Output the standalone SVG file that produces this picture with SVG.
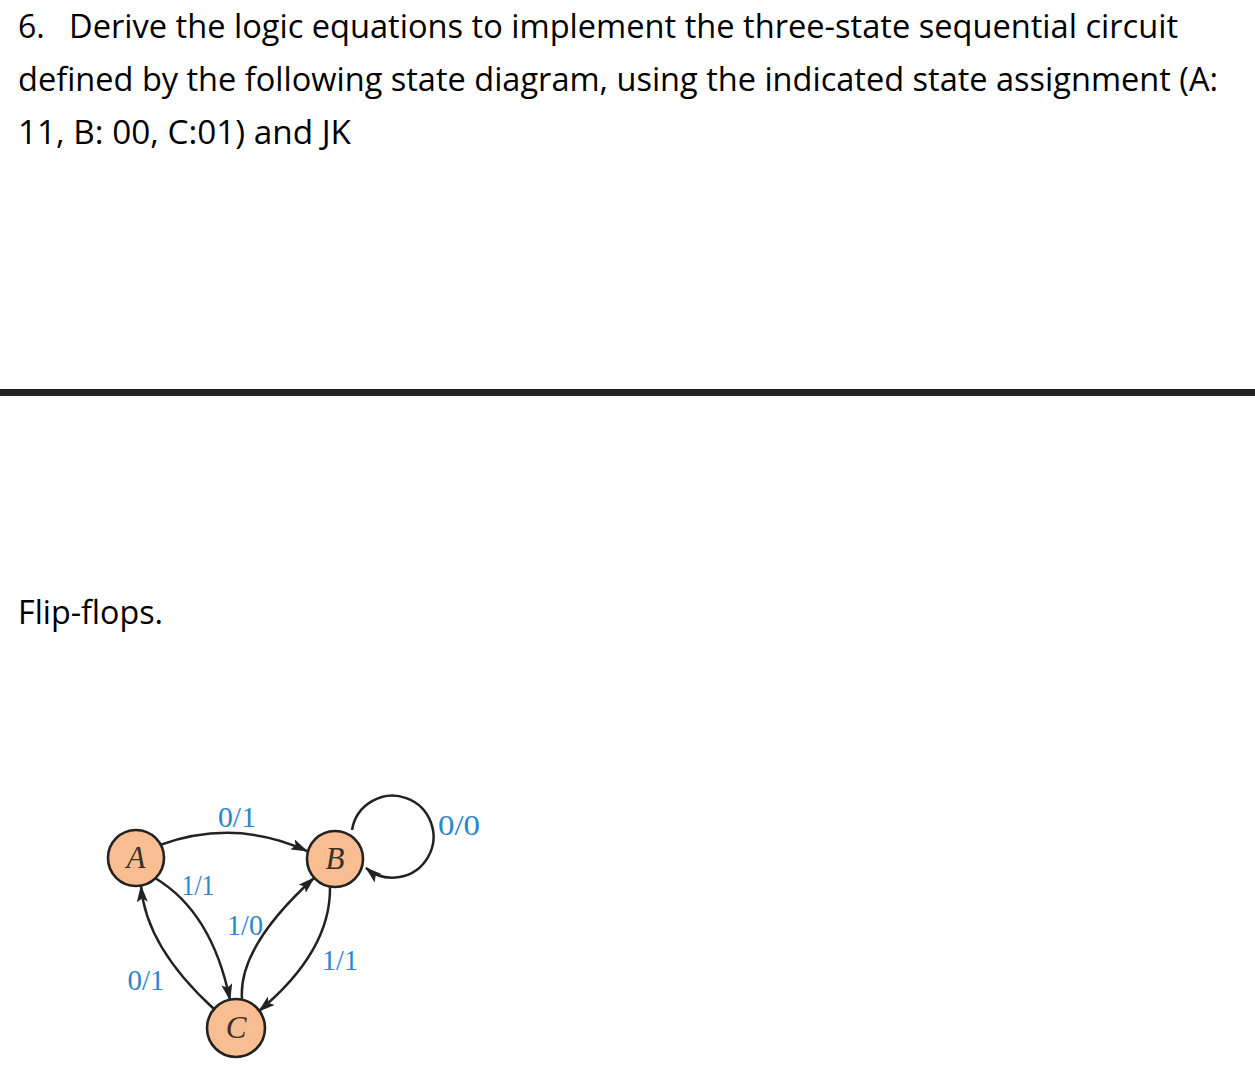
<svg xmlns="http://www.w3.org/2000/svg" width="1255" height="1082" viewBox="0 0 1255 1082">
<style>
.q{font-family:"Open Sans","Noto Sans",sans-serif;font-size:32px;fill:#000}
.st{fill:#f9bd92;stroke:#222;stroke-width:2.6}
.sl{font-family:"Liberation Serif",serif;font-style:italic;font-size:31px;fill:#3a3028;text-anchor:middle}
.e{fill:none;stroke:#222;stroke-width:2.5}
.lb{font-family:"Liberation Serif",serif;font-size:30px;fill:#2b86cc;text-anchor:middle}
</style>
<defs>
<marker id="ah" markerUnits="userSpaceOnUse" markerWidth="17" markerHeight="11" refX="16" refY="5.5" orient="auto">
<path d="M0,0 L17,5.5 L0,11 L3.5,5.5 z" fill="#222"/>
</marker>
</defs>
<rect width="1255" height="1082" fill="#fff"/>
<g id="question">
<text class="q" x="18" y="38">6.</text>
<text class="q" x="69" y="38" textLength="1109" lengthAdjust="spacingAndGlyphs">Derive the logic equations to implement the three-state sequential circuit</text>
<text class="q" x="18" y="91" textLength="1200" lengthAdjust="spacingAndGlyphs">defined by the following state diagram, using the indicated state assignment (A:</text>
<text class="q" x="18" y="144" textLength="333" lengthAdjust="spacingAndGlyphs">11, B: 00, C:01) and JK</text>
<rect x="0" y="389" width="1255" height="7" fill="#222"/>
<text class="q" x="18" y="624" textLength="145" lengthAdjust="spacingAndGlyphs">Flip-flops.</text>
</g>
<g id="connectors">
<path class="e" d="M160,845 Q235,818 307,851" marker-end="url(#ah)"/>
<path class="e" d="M352,830 A41,41 0 1 1 366,868" marker-end="url(#ah)"/>
<path class="e" d="M155,878 Q212,912 230,1000" marker-end="url(#ah)"/>
<path class="e" d="M214,1009 Q146,947 141,886" marker-end="url(#ah)"/>
<path class="e" d="M242,999 Q238,947 314,878" marker-end="url(#ah)"/>
<path class="e" d="M330,887 Q331,951 259,1011" marker-end="url(#ah)"/>
<text class="lb" x="237" y="827" textLength="38" lengthAdjust="spacingAndGlyphs">0/1</text>
<text class="lb" x="459" y="835" textLength="42" lengthAdjust="spacingAndGlyphs">0/0</text>
<text class="lb" x="198" y="895" textLength="33" lengthAdjust="spacingAndGlyphs">1/1</text>
<text class="lb" x="146" y="990" textLength="37" lengthAdjust="spacingAndGlyphs">0/1</text>
<text class="lb" x="245" y="935" textLength="36" lengthAdjust="spacingAndGlyphs">1/0</text>
<text class="lb" x="340" y="970" textLength="36" lengthAdjust="spacingAndGlyphs">1/1</text>
</g>
<g id="node-A"><circle class="st" cx="136" cy="858" r="28"/><text class="sl" x="136" y="868">A</text></g>
<g id="node-B"><circle class="st" cx="335" cy="859" r="28"/><text class="sl" x="335" y="869">B</text></g>
<g id="node-C"><circle class="st" cx="236" cy="1028" r="29"/><text class="sl" x="236" y="1038">C</text></g>
</svg>
